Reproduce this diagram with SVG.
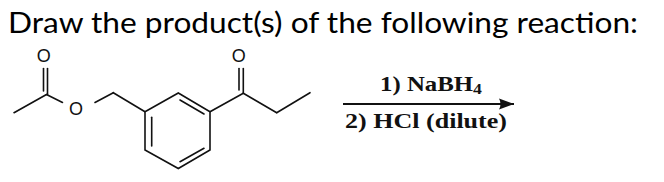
<svg xmlns="http://www.w3.org/2000/svg" width="664" height="182" viewBox="0 0 664 182">
<style>
.b{stroke:#111;stroke-width:1.6;fill:none;stroke-linecap:round}
.at{font-family:"Liberation Sans",Arial,sans-serif;font-size:18px;fill:#111;text-anchor:middle}
.rg{font-family:"Liberation Serif","Times New Roman",serif;font-size:21px;fill:#111;font-weight:bold}
.title{font-family:Lato,"Open Sans",sans-serif;font-size:29px;fill:#000}
</style>
<defs>
<marker id="ah" markerWidth="16" markerHeight="12" refX="15" refY="6" orient="auto" markerUnits="userSpaceOnUse">
<path d="M0,0.5 L15,6 L0,11.5 Q3,6 0,0.5 Z" fill="#111"/>
</marker>
</defs>
<rect width="664" height="182" fill="#fff"/>
<text id="title" class="title" x="8" y="33" textLength="630" lengthAdjust="spacingAndGlyphs">Draw the product(s) of the following reaction:</text>
<g id="molecule">
<g id="bonds">
<line class="b" x1="14" y1="112.7" x2="46.5" y2="94.5"/>
<line class="b" x1="47.5" y1="94.5" x2="47.5" y2="68.5"/>
<line class="b" x1="43.5" y1="91" x2="43.5" y2="68.5"/>
<line class="b" x1="46.5" y1="94.5" x2="62.5" y2="102.5"/>
<line class="b" x1="95" y1="102.5" x2="113.3" y2="92.7"/>
<line class="b" x1="113.3" y1="92.7" x2="145" y2="111.7"/>
<path class="b" d="M145,111.7 L178.3,93 L210,111.7 L210,150 L178.3,168.5 L145,150 Z"/>
<line class="b" x1="151.7" y1="117.3" x2="151.7" y2="146"/>
<line class="b" x1="180" y1="100" x2="204" y2="114"/>
<line class="b" x1="204" y1="148.3" x2="180" y2="161.7"/>
<line class="b" x1="210" y1="111.7" x2="243.3" y2="93.3"/>
<line class="b" x1="243.3" y1="93.3" x2="243.3" y2="68.5"/>
<line class="b" x1="239" y1="90" x2="239" y2="68.5"/>
<line class="b" x1="243.3" y1="93.3" x2="276.7" y2="112.7"/>
<line class="b" x1="276.7" y1="112.7" x2="310" y2="92.7"/>
</g>
<g id="atom-O1"><text class="at" x="43.8" y="62">O</text></g>
<g id="atom-O2"><text class="at" x="76" y="114.5">O</text></g>
<g id="atom-O3"><text class="at" x="238.8" y="62">O</text></g>
</g>
<g id="connectors">
<line x1="343" y1="104" x2="514" y2="104" stroke="#111" stroke-width="2" marker-end="url(#ah)"/>
</g>
<g id="reagents">
<text class="rg" x="380" y="91" textLength="102" lengthAdjust="spacingAndGlyphs">1) NaBH<tspan font-size="15" dy="3">4</tspan></text>
<text class="rg" x="345" y="128" textLength="162" lengthAdjust="spacingAndGlyphs">2) HCl (dilute)</text>
</g>
</svg>
